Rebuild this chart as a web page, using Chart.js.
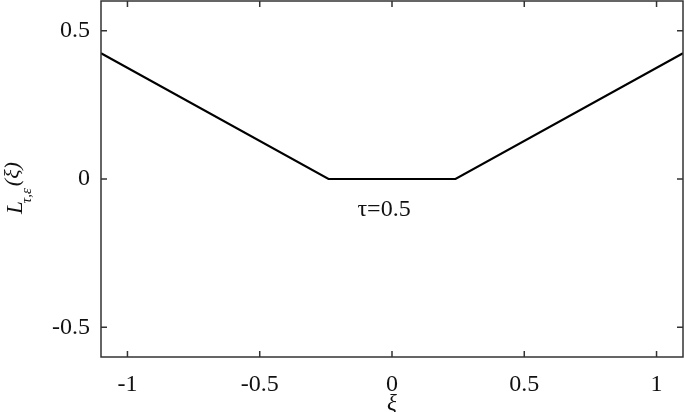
<!DOCTYPE html>
<html lang="en">
<meta charset="UTF-8">
<title>Loss function</title>
<script src="https://cdn.jsdelivr.net/npm/chart.js@4.4.0/dist/chart.umd.min.js"></script>
<style>
html,body{margin:0;padding:0;background:#fff;}
</style>
<body>
<canvas id="lossChart" width="685" height="412"></canvas>
<script>
// values
var xi = [-1.1, -0.24, 0.24, 1.1];
var loss = [0.424, 0, 0, 0.424];
var xTicks = [-1, -0.5, 0, 0.5, 1];
var yTicks = [-0.5, 0, 0.5];
var tauLabel = 'τ=0.5';
var tauPos = [-0.03, -0.105];

var serif = '"Times New Roman", "Liberation Serif", serif';
var axisColor = '#333';

// box, inward ticks and the texts that chart.js can't set itself
var boxPlugin = {
  id: 'box',
  afterDraw: function(chart) {
    var ctx = chart.ctx, a = chart.chartArea;
    var sx = chart.scales.x, sy = chart.scales.y;
    ctx.save();
    ctx.strokeStyle = axisColor;
    ctx.lineWidth = 1.5;
    ctx.strokeRect(a.left, a.top, a.right - a.left, a.bottom - a.top);
    ctx.beginPath();
    xTicks.forEach(function(v) {
      var px = sx.getPixelForValue(v);
      ctx.moveTo(px, a.bottom); ctx.lineTo(px, a.bottom - 6);
      ctx.moveTo(px, a.top); ctx.lineTo(px, a.top + 6);
    });
    yTicks.forEach(function(v) {
      var py = sy.getPixelForValue(v);
      ctx.moveTo(a.left, py); ctx.lineTo(a.left + 6, py);
      ctx.moveTo(a.right, py); ctx.lineTo(a.right - 6, py);
    });
    ctx.stroke();

    ctx.fillStyle = '#111';
    // annotation
    ctx.font = '24px ' + serif;
    ctx.textAlign = 'center';
    ctx.textBaseline = 'middle';
    ctx.fillText(tauLabel, sx.getPixelForValue(tauPos[0]), sy.getPixelForValue(tauPos[1]));

    // x title
    ctx.font = 'italic 23px ' + serif;
    ctx.fillText('ξ', sx.getPixelForValue(0), 404);

    // y title L_{τ,ε}(ξ), rotated
    ctx.translate(22, 214);
    ctx.rotate(-Math.PI / 2);
    ctx.textAlign = 'left';
    ctx.textBaseline = 'alphabetic';
    ctx.font = 'italic 23px ' + serif;
    ctx.fillText('L', 0, 0);
    var w = ctx.measureText('L').width;
    ctx.font = 'italic 15px ' + serif;
    ctx.fillText('τ,ε', w - 2, 9);
    w += ctx.measureText('τ,ε').width;
    ctx.font = 'italic 22px ' + serif;
    ctx.fillText('(ξ)', w, -3);
    ctx.restore();
  }
};

var ctx = document.getElementById('lossChart').getContext('2d');
var lossChart = new Chart(ctx, {
  type: 'scatter',
  data: {
    datasets: [{
      data: xi.map(function(v, i) { return {x: v, y: loss[i]}; }),
      showLine: true,
      borderColor: '#000',
      borderWidth: 2.2,
      pointRadius: 0,
      tension: 0
    }]
  },
  options: {
    responsive: false,
    devicePixelRatio: 1,
    animation: false,
    layout: {padding: {top: 1, right: 2, left: 0, bottom: 0}},
    plugins: {legend: {display: false}, tooltip: {enabled: false}},
    scales: {
      x: {
        type: 'linear',
        min: -1.1, max: 1.1,
        afterBuildTicks: function(s) { s.ticks = xTicks.map(function(v) { return {value: v}; }); },
        afterFit: function(s) { s.height = 55; s.paddingLeft = 0; s.paddingRight = 0; },
        grid: {display: false, drawTicks: false},
        border: {display: false},
        ticks: {
          padding: 13,
          color: '#111',
          font: {family: serif, size: 24},
          maxRotation: 0,
          callback: function(v) { return String(v); }
        }
      },
      y: {
        min: -0.6, max: 0.6,
        afterBuildTicks: function(s) { s.ticks = yTicks.map(function(v) { return {value: v}; }); },
        afterFit: function(s) { s.width = 101; s.paddingTop = 0; s.paddingBottom = 0; },
        grid: {display: false, drawTicks: false},
        border: {display: false},
        ticks: {
          padding: 11,
          color: '#111',
          font: {family: serif, size: 24},
          callback: function(v) { return String(v); }
        }
      }
    }
  },
  plugins: [boxPlugin]
});
</script>
</body>
</html>
